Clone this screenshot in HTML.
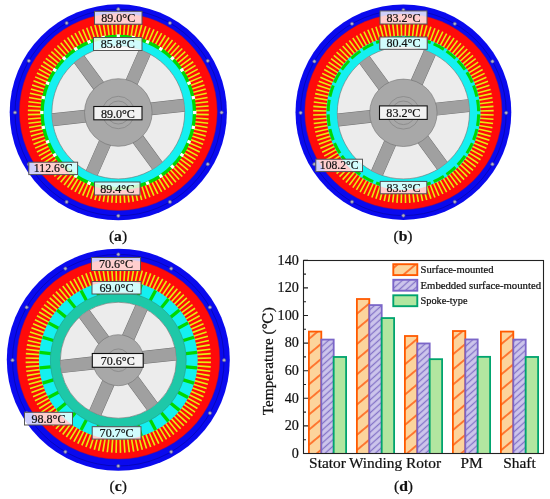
<!DOCTYPE html>
<html><head><meta charset="utf-8"><title>Temperature comparison</title>
<style>
html,body{margin:0;padding:0;background:#fff}
svg{display:block}
text{font-family:"Liberation Serif","DejaVu Serif",serif;fill:#111;stroke:#111;stroke-width:0.22px}
.lb{font-size:13px}
.cap{font-size:15.6px}
.ax{font-size:14.2px}
.xl{font-size:15.4px}
.lg{font-size:9.6px}
</style></head><body>
<svg width="550" height="499" viewBox="0 0 550 499">
<rect width="550" height="499" fill="#fff"/>
<g>
<ellipse cx="118.30" cy="112.35" rx="108.60" ry="108.00" fill="#0a0aee"/>
<ellipse cx="118.30" cy="112.50" rx="103.30" ry="103.30" fill="none" stroke="#0606b4" stroke-width="0.9"/>
<ellipse cx="118.30" cy="111.85" rx="98.90" ry="98.60" fill="#ff0a0a" stroke="#9a1040" stroke-width="0.5"/>
<path d="M120.45 22.03L120.14 35.22M124.76 22.23L123.81 35.40M129.04 22.64L127.48 35.75M133.31 23.25L131.12 36.27M137.54 24.07L134.73 36.97M141.72 25.08L138.31 37.83M145.86 26.30L141.84 38.87M149.93 27.71L145.31 40.07M153.93 29.31L148.73 41.44M157.84 31.10L152.08 42.97M161.67 33.07L155.35 44.66M165.40 35.22L158.53 46.49M169.03 37.55L161.63 48.48M172.53 40.05L164.62 50.62M175.92 42.71L167.52 52.89M179.18 45.53L170.30 55.30M182.29 48.51L172.96 57.84M185.27 51.62L175.50 60.50M188.09 54.88L177.91 63.28M190.75 58.27L180.18 66.18M193.25 61.77L182.32 69.17M195.58 65.40L184.31 72.27M197.73 69.13L186.14 75.45M199.70 72.96L187.83 78.72M201.49 76.87L189.36 82.07M203.09 80.87L190.73 85.49M204.50 84.94L191.93 88.96M205.72 89.08L192.97 92.49M206.73 93.26L193.83 96.07M207.55 97.49L194.53 99.68M208.16 101.76L195.05 103.32M208.57 106.04L195.40 106.99M208.77 110.35L195.58 110.66M208.77 114.65L195.58 114.34M208.57 118.96L195.40 118.01M208.16 123.24L195.05 121.68M207.55 127.51L194.53 125.32M206.73 131.74L193.83 128.93M205.72 135.92L192.97 132.51M204.50 140.06L191.93 136.04M203.09 144.13L190.73 139.51M201.49 148.13L189.36 142.93M199.70 152.04L187.83 146.28M197.73 155.87L186.14 149.55M195.58 159.60L184.31 152.73M193.25 163.23L182.32 155.83M190.75 166.73L180.18 158.82M188.09 170.12L177.91 161.72M185.27 173.38L175.50 164.50M182.29 176.49L172.96 167.16M179.18 179.47L170.30 169.70M175.92 182.29L167.52 172.11M172.53 184.95L164.62 174.38M169.03 187.45L161.63 176.52M165.40 189.78L158.53 178.51M161.67 191.93L155.35 180.34M157.84 193.90L152.08 182.03M153.93 195.69L148.73 183.56M149.93 197.29L145.31 184.93M145.86 198.70L141.84 186.13M141.72 199.92L138.31 187.17M137.54 200.93L134.73 188.03M133.31 201.75L131.12 188.73M129.04 202.36L127.48 189.25M124.76 202.77L123.81 189.60M120.45 202.97L120.14 189.78M116.15 202.97L116.46 189.78M111.84 202.77L112.79 189.60M107.56 202.36L109.12 189.25M103.29 201.75L105.48 188.73M99.06 200.93L101.87 188.03M94.88 199.92L98.29 187.17M90.74 198.70L94.76 186.13M86.67 197.29L91.29 184.93M82.67 195.69L87.87 183.56M78.76 193.90L84.52 182.03M74.93 191.93L81.25 180.34M71.20 189.78L78.07 178.51M67.57 187.45L74.97 176.52M64.07 184.95L71.98 174.38M60.68 182.29L69.08 172.11M57.42 179.47L66.30 169.70M54.31 176.49L63.64 167.16M51.33 173.38L61.10 164.50M48.51 170.12L58.69 161.72M45.85 166.73L56.42 158.82M43.35 163.23L54.28 155.83M41.02 159.60L52.29 152.73M38.87 155.87L50.46 149.55M36.90 152.04L48.77 146.28M35.11 148.13L47.24 142.93M33.51 144.13L45.87 139.51M32.10 140.06L44.67 136.04M30.88 135.92L43.63 132.51M29.87 131.74L42.77 128.93M29.05 127.51L42.07 125.32M28.44 123.24L41.55 121.68M28.03 118.96L41.20 118.01M27.83 114.65L41.02 114.34M27.83 110.35L41.02 110.66M28.03 106.04L41.20 106.99M28.44 101.76L41.55 103.32M29.05 97.49L42.07 99.68M29.87 93.26L42.77 96.07M30.88 89.08L43.63 92.49M32.10 84.94L44.67 88.96M33.51 80.87L45.87 85.49M35.11 76.87L47.24 82.07M36.90 72.96L48.77 78.72M38.87 69.13L50.46 75.45M41.02 65.40L52.29 72.27M43.35 61.77L54.28 69.17M45.85 58.27L56.42 66.18M48.51 54.88L58.69 63.28M51.33 51.62L61.10 60.50M54.31 48.51L63.64 57.84M57.42 45.53L66.30 55.30M60.68 42.71L69.08 52.89M64.07 40.05L71.98 50.62M67.57 37.55L74.97 48.48M71.20 35.22L78.07 46.49M74.93 33.07L81.25 44.66M78.76 31.10L84.52 42.97M82.67 29.31L87.87 41.44M86.67 27.71L91.29 40.07M90.74 26.30L94.76 38.87M94.88 25.08L98.29 37.83M99.06 24.07L101.87 36.97M103.29 23.25L105.48 36.27M107.56 22.64L109.12 35.75M111.84 22.23L112.79 35.40M116.15 22.03L116.46 35.22" stroke="#e6ea10" stroke-width="1.60" fill="none"/>
<circle cx="118.30" cy="9.20" r="1.60" fill="#b4b4c8" stroke="#5a5a96" stroke-width="0.7" />
<circle cx="169.95" cy="23.04" r="1.60" fill="#b4b4c8" stroke="#5a5a96" stroke-width="0.7" />
<circle cx="207.76" cy="60.85" r="1.60" fill="#b4b4c8" stroke="#5a5a96" stroke-width="0.7" />
<circle cx="221.60" cy="112.50" r="1.60" fill="#b4b4c8" stroke="#5a5a96" stroke-width="0.7" />
<circle cx="207.76" cy="164.15" r="1.60" fill="#b4b4c8" stroke="#5a5a96" stroke-width="0.7" />
<circle cx="169.95" cy="201.96" r="1.60" fill="#b4b4c8" stroke="#5a5a96" stroke-width="0.7" />
<circle cx="118.30" cy="215.80" r="1.60" fill="#b4b4c8" stroke="#5a5a96" stroke-width="0.7" />
<circle cx="66.65" cy="201.96" r="1.60" fill="#b4b4c8" stroke="#5a5a96" stroke-width="0.7" />
<circle cx="28.84" cy="164.15" r="1.60" fill="#b4b4c8" stroke="#5a5a96" stroke-width="0.7" />
<circle cx="15.00" cy="112.50" r="1.60" fill="#b4b4c8" stroke="#5a5a96" stroke-width="0.7" />
<circle cx="28.84" cy="60.85" r="1.60" fill="#b4b4c8" stroke="#5a5a96" stroke-width="0.7" />
<circle cx="66.65" cy="23.04" r="1.60" fill="#b4b4c8" stroke="#5a5a96" stroke-width="0.7" />
<circle cx="118.30" cy="112.50" r="77.80" fill="#00d800" />
<rect x="116.70" y="34.35" width="3.2" height="3.4" fill="#fff" transform="rotate(0.00 118.30 36.05)"/>
<rect x="131.61" y="35.82" width="3.2" height="3.4" fill="#fff" transform="rotate(11.25 133.21 37.52)"/>
<rect x="145.96" y="40.17" width="3.2" height="3.4" fill="#fff" transform="rotate(22.50 147.56 41.87)"/>
<rect x="159.17" y="47.23" width="3.2" height="3.4" fill="#fff" transform="rotate(33.75 160.77 48.93)"/>
<rect x="170.76" y="56.74" width="3.2" height="3.4" fill="#fff" transform="rotate(45.00 172.36 58.44)"/>
<rect x="180.27" y="68.33" width="3.2" height="3.4" fill="#fff" transform="rotate(56.25 181.87 70.03)"/>
<rect x="187.33" y="81.54" width="3.2" height="3.4" fill="#fff" transform="rotate(67.50 188.93 83.24)"/>
<rect x="191.68" y="95.89" width="3.2" height="3.4" fill="#fff" transform="rotate(78.75 193.28 97.59)"/>
<rect x="193.15" y="110.80" width="3.2" height="3.4" fill="#fff" transform="rotate(90.00 194.75 112.50)"/>
<rect x="191.68" y="125.71" width="3.2" height="3.4" fill="#fff" transform="rotate(101.25 193.28 127.41)"/>
<rect x="187.33" y="140.06" width="3.2" height="3.4" fill="#fff" transform="rotate(112.50 188.93 141.76)"/>
<rect x="180.27" y="153.27" width="3.2" height="3.4" fill="#fff" transform="rotate(123.75 181.87 154.97)"/>
<rect x="170.76" y="164.86" width="3.2" height="3.4" fill="#fff" transform="rotate(135.00 172.36 166.56)"/>
<rect x="159.17" y="174.37" width="3.2" height="3.4" fill="#fff" transform="rotate(146.25 160.77 176.07)"/>
<rect x="145.96" y="181.43" width="3.2" height="3.4" fill="#fff" transform="rotate(157.50 147.56 183.13)"/>
<rect x="131.61" y="185.78" width="3.2" height="3.4" fill="#fff" transform="rotate(168.75 133.21 187.48)"/>
<rect x="116.70" y="187.25" width="3.2" height="3.4" fill="#fff" transform="rotate(180.00 118.30 188.95)"/>
<rect x="101.79" y="185.78" width="3.2" height="3.4" fill="#fff" transform="rotate(191.25 103.39 187.48)"/>
<rect x="87.44" y="181.43" width="3.2" height="3.4" fill="#fff" transform="rotate(202.50 89.04 183.13)"/>
<rect x="74.23" y="174.37" width="3.2" height="3.4" fill="#fff" transform="rotate(213.75 75.83 176.07)"/>
<rect x="62.64" y="164.86" width="3.2" height="3.4" fill="#fff" transform="rotate(225.00 64.24 166.56)"/>
<rect x="53.13" y="153.27" width="3.2" height="3.4" fill="#fff" transform="rotate(236.25 54.73 154.97)"/>
<rect x="46.07" y="140.06" width="3.2" height="3.4" fill="#fff" transform="rotate(247.50 47.67 141.76)"/>
<rect x="41.72" y="125.71" width="3.2" height="3.4" fill="#fff" transform="rotate(258.75 43.32 127.41)"/>
<rect x="40.25" y="110.80" width="3.2" height="3.4" fill="#fff" transform="rotate(270.00 41.85 112.50)"/>
<rect x="41.72" y="95.89" width="3.2" height="3.4" fill="#fff" transform="rotate(281.25 43.32 97.59)"/>
<rect x="46.07" y="81.54" width="3.2" height="3.4" fill="#fff" transform="rotate(292.50 47.67 83.24)"/>
<rect x="53.13" y="68.33" width="3.2" height="3.4" fill="#fff" transform="rotate(303.75 54.73 70.03)"/>
<rect x="62.64" y="56.74" width="3.2" height="3.4" fill="#fff" transform="rotate(315.00 64.24 58.44)"/>
<rect x="74.23" y="47.23" width="3.2" height="3.4" fill="#fff" transform="rotate(326.25 75.83 48.93)"/>
<rect x="87.44" y="40.17" width="3.2" height="3.4" fill="#fff" transform="rotate(337.50 89.04 41.87)"/>
<rect x="101.79" y="35.82" width="3.2" height="3.4" fill="#fff" transform="rotate(348.75 103.39 37.52)"/>
<circle cx="118.30" cy="112.50" r="74.50" fill="#14f0f0" />
<circle cx="118.30" cy="112.50" r="66.40" fill="#ececec" stroke="#707070" stroke-width="0.6" />
<path d="M150.90 108.90L184.00 105.25M137.72 138.93L157.43 165.77M105.12 142.53L91.73 173.03M85.70 116.10L52.60 119.75M98.88 86.07L79.17 59.23M131.48 82.47L144.87 51.97" stroke="#707070" stroke-width="12.90" fill="none"/>
<path d="M150.90 108.90L184.00 105.25M137.72 138.93L157.43 165.77M105.12 142.53L91.73 173.03M85.70 116.10L52.60 119.75M98.88 86.07L79.17 59.23M131.48 82.47L144.87 51.97" stroke="#a0a0a0" stroke-width="12.00" fill="none"/>
<circle cx="118.30" cy="112.50" r="33.80" fill="#a8a8a8" stroke="#707070" stroke-width="0.6" />
<circle cx="118.30" cy="112.50" r="16.20" fill="none" stroke="#868686" stroke-width="0.8" />
<circle cx="118.30" cy="112.50" r="11.50" fill="none" stroke="#868686" stroke-width="0.8" />
</g>
<clipPath id="cl1"><rect x="94.5" y="11.3" width="47.50" height="12.90"/></clipPath>
<g clip-path="url(#cl1)">
<ellipse cx="118.30" cy="112.35" rx="108.60" ry="108.00" fill="#0a0aee"/>
<ellipse cx="118.30" cy="112.50" rx="103.30" ry="103.30" fill="none" stroke="#0606b4" stroke-width="0.9"/>
<ellipse cx="118.30" cy="111.85" rx="98.90" ry="98.60" fill="#ff0a0a" stroke="#9a1040" stroke-width="0.5"/>
<circle cx="118.30" cy="112.50" r="77.80" fill="#00d800" />
<circle cx="118.30" cy="112.50" r="74.50" fill="#14f0f0" />
<circle cx="118.30" cy="112.50" r="66.40" fill="#ececec" stroke="#707070" stroke-width="0.6" />
</g>
<rect x="94.5" y="11.3" width="47.50" height="12.90" fill="#fff" fill-opacity="0.8" stroke="#555" stroke-width="1"/>
<text x="118.25" y="21.90" text-anchor="middle" class="lb" textLength="34.0" lengthAdjust="spacingAndGlyphs">89.0°C</text>
<clipPath id="cl2"><rect x="93.5" y="37.5" width="48.50" height="13.00"/></clipPath>
<g clip-path="url(#cl2)">
<ellipse cx="118.30" cy="112.35" rx="108.60" ry="108.00" fill="#0a0aee"/>
<ellipse cx="118.30" cy="112.50" rx="103.30" ry="103.30" fill="none" stroke="#0606b4" stroke-width="0.9"/>
<ellipse cx="118.30" cy="111.85" rx="98.90" ry="98.60" fill="#ff0a0a" stroke="#9a1040" stroke-width="0.5"/>
<circle cx="118.30" cy="112.50" r="77.80" fill="#00d800" />
<circle cx="118.30" cy="112.50" r="74.50" fill="#14f0f0" />
<circle cx="118.30" cy="112.50" r="66.40" fill="#ececec" stroke="#707070" stroke-width="0.6" />
</g>
<rect x="93.5" y="37.5" width="48.50" height="13.00" fill="#fff" fill-opacity="0.8" stroke="#555" stroke-width="1"/>
<text x="117.75" y="48.20" text-anchor="middle" class="lb" textLength="34.0" lengthAdjust="spacingAndGlyphs">85.8°C</text>
<rect x="93.8" y="106.5" width="48.20" height="13.30" fill="#f2f2f2" stroke="#111" stroke-width="1.1"/>
<text x="117.90" y="117.50" text-anchor="middle" class="lb" textLength="34.0" lengthAdjust="spacingAndGlyphs">89.0°C</text>
<clipPath id="cl3"><rect x="28.8" y="162.2" width="48.80" height="12.40"/></clipPath>
<g clip-path="url(#cl3)">
<ellipse cx="118.30" cy="112.35" rx="108.60" ry="108.00" fill="#0a0aee"/>
<ellipse cx="118.30" cy="112.50" rx="103.30" ry="103.30" fill="none" stroke="#0606b4" stroke-width="0.9"/>
<ellipse cx="118.30" cy="111.85" rx="98.90" ry="98.60" fill="#ff0a0a" stroke="#9a1040" stroke-width="0.5"/>
<circle cx="118.30" cy="112.50" r="77.80" fill="#00d800" />
<circle cx="118.30" cy="112.50" r="74.50" fill="#14f0f0" />
<circle cx="118.30" cy="112.50" r="66.40" fill="#ececec" stroke="#707070" stroke-width="0.6" />
</g>
<rect x="28.8" y="162.2" width="48.80" height="12.40" fill="#fff" fill-opacity="0.8" stroke="#555" stroke-width="1"/>
<text x="53.20" y="172.30" text-anchor="middle" class="lb" textLength="38.7" lengthAdjust="spacingAndGlyphs">112.6°C</text>
<clipPath id="cl4"><rect x="94.5" y="182" width="45.50" height="13.00"/></clipPath>
<g clip-path="url(#cl4)">
<ellipse cx="118.30" cy="112.35" rx="108.60" ry="108.00" fill="#0a0aee"/>
<ellipse cx="118.30" cy="112.50" rx="103.30" ry="103.30" fill="none" stroke="#0606b4" stroke-width="0.9"/>
<ellipse cx="118.30" cy="111.85" rx="98.90" ry="98.60" fill="#ff0a0a" stroke="#9a1040" stroke-width="0.5"/>
<circle cx="118.30" cy="112.50" r="77.80" fill="#00d800" />
<circle cx="118.30" cy="112.50" r="74.50" fill="#14f0f0" />
<circle cx="118.30" cy="112.50" r="66.40" fill="#ececec" stroke="#707070" stroke-width="0.6" />
</g>
<rect x="94.5" y="182" width="45.50" height="13.00" fill="#fff" fill-opacity="0.8" stroke="#555" stroke-width="1"/>
<text x="117.25" y="192.70" text-anchor="middle" class="lb" textLength="34.0" lengthAdjust="spacingAndGlyphs">89.4°C</text>
<g>
<ellipse cx="403.40" cy="112.15" rx="107.90" ry="107.75" fill="#0a0aee"/>
<ellipse cx="403.40" cy="112.80" rx="102.80" ry="102.80" fill="none" stroke="#0606b4" stroke-width="0.9"/>
<ellipse cx="403.40" cy="111.70" rx="98.60" ry="97.80" fill="#ff0a0a" stroke="#9a1040" stroke-width="0.5"/>
<path d="M405.55 22.53L405.22 36.22M409.84 22.73L408.86 36.40M414.12 23.14L412.49 36.74M418.37 23.75L416.10 37.26M422.59 24.56L419.68 37.95M426.77 25.58L423.23 38.81M430.90 26.79L426.72 39.84M434.96 28.19L430.17 41.03M438.95 29.79L433.55 42.38M442.86 31.58L436.87 43.90M446.68 33.55L440.11 45.57M450.40 35.69L443.27 47.39M454.01 38.02L446.33 49.36M457.51 40.51L449.30 51.48M460.89 43.17L452.17 53.73M464.14 45.98L454.93 56.12M467.25 48.95L457.56 58.64M470.22 52.06L460.08 61.27M473.03 55.31L462.47 64.03M475.69 58.69L464.72 66.90M478.18 62.19L466.84 69.87M480.51 65.80L468.81 72.93M482.65 69.52L470.63 76.09M484.62 73.34L472.30 79.33M486.41 77.25L473.82 82.65M488.01 81.24L475.17 86.03M489.41 85.30L476.36 89.48M490.62 89.43L477.39 92.97M491.64 93.61L478.25 96.52M492.45 97.83L478.94 100.10M493.06 102.08L479.46 103.71M493.47 106.36L479.80 107.34M493.67 110.65L479.98 110.98M493.67 114.95L479.98 114.62M493.47 119.24L479.80 118.26M493.06 123.52L479.46 121.89M492.45 127.77L478.94 125.50M491.64 131.99L478.25 129.08M490.62 136.17L477.39 132.63M489.41 140.30L476.36 136.12M488.01 144.36L475.17 139.57M486.41 148.35L473.82 142.95M484.62 152.26L472.30 146.27M482.65 156.08L470.63 149.51M480.51 159.80L468.81 152.67M478.18 163.41L466.84 155.73M475.69 166.91L464.72 158.70M473.03 170.29L462.47 161.57M470.22 173.54L460.08 164.33M467.25 176.65L457.56 166.96M464.14 179.62L454.93 169.48M460.89 182.43L452.17 171.87M457.51 185.09L449.30 174.12M454.01 187.58L446.33 176.24M450.40 189.91L443.27 178.21M446.68 192.05L440.11 180.03M442.86 194.02L436.87 181.70M438.95 195.81L433.55 183.22M434.96 197.41L430.17 184.57M430.90 198.81L426.72 185.76M426.77 200.02L423.23 186.79M422.59 201.04L419.68 187.65M418.37 201.85L416.10 188.34M414.12 202.46L412.49 188.86M409.84 202.87L408.86 189.20M405.55 203.07L405.22 189.38M401.25 203.07L401.58 189.38M396.96 202.87L397.94 189.20M392.68 202.46L394.31 188.86M388.43 201.85L390.70 188.34M384.21 201.04L387.12 187.65M380.03 200.02L383.57 186.79M375.90 198.81L380.08 185.76M371.84 197.41L376.63 184.57M367.85 195.81L373.25 183.22M363.94 194.02L369.93 181.70M360.12 192.05L366.69 180.03M356.40 189.91L363.53 178.21M352.79 187.58L360.47 176.24M349.29 185.09L357.50 174.12M345.91 182.43L354.63 171.87M342.66 179.62L351.87 169.48M339.55 176.65L349.24 166.96M336.58 173.54L346.72 164.33M333.77 170.29L344.33 161.57M331.11 166.91L342.08 158.70M328.62 163.41L339.96 155.73M326.29 159.80L337.99 152.67M324.15 156.08L336.17 149.51M322.18 152.26L334.50 146.27M320.39 148.35L332.98 142.95M318.79 144.36L331.63 139.57M317.39 140.30L330.44 136.12M316.18 136.17L329.41 132.63M315.16 131.99L328.55 129.08M314.35 127.77L327.86 125.50M313.74 123.52L327.34 121.89M313.33 119.24L327.00 118.26M313.13 114.95L326.82 114.62M313.13 110.65L326.82 110.98M313.33 106.36L327.00 107.34M313.74 102.08L327.34 103.71M314.35 97.83L327.86 100.10M315.16 93.61L328.55 96.52M316.18 89.43L329.41 92.97M317.39 85.30L330.44 89.48M318.79 81.24L331.63 86.03M320.39 77.25L332.98 82.65M322.18 73.34L334.50 79.33M324.15 69.52L336.17 76.09M326.29 65.80L337.99 72.93M328.62 62.19L339.96 69.87M331.11 58.69L342.08 66.90M333.77 55.31L344.33 64.03M336.58 52.06L346.72 61.27M339.55 48.95L349.24 58.64M342.66 45.98L351.87 56.12M345.91 43.17L354.63 53.73M349.29 40.51L357.50 51.48M352.79 38.02L360.47 49.36M356.40 35.69L363.53 47.39M360.12 33.55L366.69 45.57M363.94 31.58L369.93 43.90M367.85 29.79L373.25 42.38M371.84 28.19L376.63 41.03M375.90 26.79L380.08 39.84M380.03 25.58L383.57 38.81M384.21 24.56L387.12 37.95M388.43 23.75L390.70 37.26M392.68 23.14L394.31 36.74M396.96 22.73L397.94 36.40M401.25 22.53L401.58 36.22" stroke="#e6ea10" stroke-width="1.59" fill="none"/>
<circle cx="403.40" cy="10.00" r="1.60" fill="#b4b4c8" stroke="#5a5a96" stroke-width="0.7" />
<circle cx="454.80" cy="23.77" r="1.60" fill="#b4b4c8" stroke="#5a5a96" stroke-width="0.7" />
<circle cx="492.43" cy="61.40" r="1.60" fill="#b4b4c8" stroke="#5a5a96" stroke-width="0.7" />
<circle cx="506.20" cy="112.80" r="1.60" fill="#b4b4c8" stroke="#5a5a96" stroke-width="0.7" />
<circle cx="492.43" cy="164.20" r="1.60" fill="#b4b4c8" stroke="#5a5a96" stroke-width="0.7" />
<circle cx="454.80" cy="201.83" r="1.60" fill="#b4b4c8" stroke="#5a5a96" stroke-width="0.7" />
<circle cx="403.40" cy="215.60" r="1.60" fill="#b4b4c8" stroke="#5a5a96" stroke-width="0.7" />
<circle cx="352.00" cy="201.83" r="1.60" fill="#b4b4c8" stroke="#5a5a96" stroke-width="0.7" />
<circle cx="314.37" cy="164.20" r="1.60" fill="#b4b4c8" stroke="#5a5a96" stroke-width="0.7" />
<circle cx="300.60" cy="112.80" r="1.60" fill="#b4b4c8" stroke="#5a5a96" stroke-width="0.7" />
<circle cx="314.37" cy="61.40" r="1.60" fill="#b4b4c8" stroke="#5a5a96" stroke-width="0.7" />
<circle cx="352.00" cy="23.77" r="1.60" fill="#b4b4c8" stroke="#5a5a96" stroke-width="0.7" />
<circle cx="403.40" cy="112.80" r="77.10" fill="#14f0f0" />
<path d="M404.98 37.57A75.25 75.25 0 0 1 416.53 38.70M419.62 39.32A75.25 75.25 0 0 1 430.73 42.69M433.65 43.90A75.25 75.25 0 0 1 443.89 49.37M446.51 51.12A75.25 75.25 0 0 1 455.48 58.49M457.71 60.72A75.25 75.25 0 0 1 465.08 69.69M466.83 72.31A75.25 75.25 0 0 1 472.30 82.55M473.51 85.47A75.25 75.25 0 0 1 476.88 96.58M477.50 99.67A75.25 75.25 0 0 1 478.63 111.22M478.63 114.38A75.25 75.25 0 0 1 477.50 125.93M476.88 129.02A75.25 75.25 0 0 1 473.51 140.13M472.30 143.05A75.25 75.25 0 0 1 466.83 153.29M465.08 155.91A75.25 75.25 0 0 1 457.71 164.88M455.48 167.11A75.25 75.25 0 0 1 446.51 174.48M443.89 176.23A75.25 75.25 0 0 1 433.65 181.70M430.73 182.91A75.25 75.25 0 0 1 419.62 186.28M416.53 186.90A75.25 75.25 0 0 1 404.98 188.03M401.82 188.03A75.25 75.25 0 0 1 390.27 186.90M387.18 186.28A75.25 75.25 0 0 1 376.07 182.91M373.15 181.70A75.25 75.25 0 0 1 362.91 176.23M360.29 174.48A75.25 75.25 0 0 1 351.32 167.11M349.09 164.88A75.25 75.25 0 0 1 341.72 155.91M339.97 153.29A75.25 75.25 0 0 1 334.50 143.05M333.29 140.13A75.25 75.25 0 0 1 329.92 129.02M329.30 125.93A75.25 75.25 0 0 1 328.17 114.38M328.17 111.22A75.25 75.25 0 0 1 329.30 99.67M329.92 96.58A75.25 75.25 0 0 1 333.29 85.47M334.50 82.55A75.25 75.25 0 0 1 339.97 72.31M341.72 69.69A75.25 75.25 0 0 1 349.09 60.72M351.32 58.49A75.25 75.25 0 0 1 360.29 51.12M362.91 49.37A75.25 75.25 0 0 1 373.15 43.90M376.07 42.69A75.25 75.25 0 0 1 387.18 39.32M390.27 38.70A75.25 75.25 0 0 1 401.82 37.57" stroke="#00d800" stroke-width="3.00" fill="none"/>
<circle cx="403.40" cy="112.80" r="66.10" fill="#ececec" stroke="#707070" stroke-width="0.6" />
<path d="M435.90 109.21L468.80 105.58M422.76 139.15L442.35 165.83M390.26 142.74L376.95 173.05M370.90 116.39L338.00 120.02M384.04 86.45L364.45 59.77M416.54 82.86L429.85 52.55" stroke="#707070" stroke-width="12.90" fill="none"/>
<path d="M435.90 109.21L468.80 105.58M422.76 139.15L442.35 165.83M390.26 142.74L376.95 173.05M370.90 116.39L338.00 120.02M384.04 86.45L364.45 59.77M416.54 82.86L429.85 52.55" stroke="#a0a0a0" stroke-width="12.00" fill="none"/>
<circle cx="403.40" cy="112.80" r="33.70" fill="#a8a8a8" stroke="#707070" stroke-width="0.6" />
<circle cx="403.40" cy="112.80" r="16.30" fill="none" stroke="#868686" stroke-width="0.8" />
<circle cx="403.40" cy="112.80" r="11.80" fill="none" stroke="#868686" stroke-width="0.8" />
</g>
<clipPath id="cl5"><rect x="380" y="10.9" width="47.00" height="13.10"/></clipPath>
<g clip-path="url(#cl5)">
<ellipse cx="403.40" cy="112.15" rx="107.90" ry="107.75" fill="#0a0aee"/>
<ellipse cx="403.40" cy="112.80" rx="102.80" ry="102.80" fill="none" stroke="#0606b4" stroke-width="0.9"/>
<ellipse cx="403.40" cy="111.70" rx="98.60" ry="97.80" fill="#ff0a0a" stroke="#9a1040" stroke-width="0.5"/>
<circle cx="403.40" cy="112.80" r="77.10" fill="#14f0f0" />
<circle cx="403.40" cy="112.80" r="66.10" fill="#ececec" stroke="#707070" stroke-width="0.6" />
</g>
<rect x="380" y="10.9" width="47.00" height="13.10" fill="#fff" fill-opacity="0.8" stroke="#555" stroke-width="1"/>
<text x="403.50" y="21.70" text-anchor="middle" class="lb" textLength="34.0" lengthAdjust="spacingAndGlyphs">83.2°C</text>
<clipPath id="cl6"><rect x="379.8" y="37.0" width="47.40" height="12.30"/></clipPath>
<g clip-path="url(#cl6)">
<ellipse cx="403.40" cy="112.15" rx="107.90" ry="107.75" fill="#0a0aee"/>
<ellipse cx="403.40" cy="112.80" rx="102.80" ry="102.80" fill="none" stroke="#0606b4" stroke-width="0.9"/>
<ellipse cx="403.40" cy="111.70" rx="98.60" ry="97.80" fill="#ff0a0a" stroke="#9a1040" stroke-width="0.5"/>
<circle cx="403.40" cy="112.80" r="77.10" fill="#14f0f0" />
<circle cx="403.40" cy="112.80" r="66.10" fill="#ececec" stroke="#707070" stroke-width="0.6" />
</g>
<rect x="379.8" y="37.0" width="47.40" height="12.30" fill="#fff" fill-opacity="0.8" stroke="#555" stroke-width="1"/>
<text x="403.50" y="47.00" text-anchor="middle" class="lb" textLength="34.0" lengthAdjust="spacingAndGlyphs">80.4°C</text>
<rect x="379.5" y="105.9" width="47.70" height="13.50" fill="#f2f2f2" stroke="#111" stroke-width="1.1"/>
<text x="403.35" y="117.10" text-anchor="middle" class="lb" textLength="34.0" lengthAdjust="spacingAndGlyphs">83.2°C</text>
<clipPath id="cl7"><rect x="315.8" y="159.2" width="46.70" height="12.40"/></clipPath>
<g clip-path="url(#cl7)">
<ellipse cx="403.40" cy="112.15" rx="107.90" ry="107.75" fill="#0a0aee"/>
<ellipse cx="403.40" cy="112.80" rx="102.80" ry="102.80" fill="none" stroke="#0606b4" stroke-width="0.9"/>
<ellipse cx="403.40" cy="111.70" rx="98.60" ry="97.80" fill="#ff0a0a" stroke="#9a1040" stroke-width="0.5"/>
<circle cx="403.40" cy="112.80" r="77.10" fill="#14f0f0" />
<circle cx="403.40" cy="112.80" r="66.10" fill="#ececec" stroke="#707070" stroke-width="0.6" />
</g>
<rect x="315.8" y="159.2" width="46.70" height="12.40" fill="#fff" fill-opacity="0.8" stroke="#555" stroke-width="1"/>
<text x="339.15" y="169.30" text-anchor="middle" class="lb" textLength="38.7" lengthAdjust="spacingAndGlyphs">108.2°C</text>
<clipPath id="cl8"><rect x="380.2" y="181.4" width="46.60" height="12.40"/></clipPath>
<g clip-path="url(#cl8)">
<ellipse cx="403.40" cy="112.15" rx="107.90" ry="107.75" fill="#0a0aee"/>
<ellipse cx="403.40" cy="112.80" rx="102.80" ry="102.80" fill="none" stroke="#0606b4" stroke-width="0.9"/>
<ellipse cx="403.40" cy="111.70" rx="98.60" ry="97.80" fill="#ff0a0a" stroke="#9a1040" stroke-width="0.5"/>
<circle cx="403.40" cy="112.80" r="77.10" fill="#14f0f0" />
<circle cx="403.40" cy="112.80" r="66.10" fill="#ececec" stroke="#707070" stroke-width="0.6" />
</g>
<rect x="380.2" y="181.4" width="46.60" height="12.40" fill="#fff" fill-opacity="0.8" stroke="#555" stroke-width="1"/>
<text x="403.50" y="191.50" text-anchor="middle" class="lb" textLength="34.0" lengthAdjust="spacingAndGlyphs">83.3°C</text>
<g>
<ellipse cx="118.30" cy="359.75" rx="111.50" ry="111.05" fill="#0a0aee"/>
<ellipse cx="118.30" cy="360.20" rx="105.80" ry="105.80" fill="none" stroke="#0606b4" stroke-width="0.9"/>
<ellipse cx="118.30" cy="359.15" rx="101.50" ry="99.95" fill="#ff0a0a" stroke="#9a1040" stroke-width="0.5"/>
<path d="M120.51 267.53L120.18 281.32M124.91 267.74L123.93 281.50M129.31 268.16L127.67 281.86M133.67 268.78L131.38 282.39M138.00 269.62L135.07 283.10M142.29 270.66L138.72 283.99M146.53 271.90L142.32 285.05M150.70 273.34L145.87 286.27M154.79 274.98L149.36 287.67M158.80 276.82L152.77 289.23M162.73 278.84L156.11 290.95M166.55 281.05L159.36 292.83M170.26 283.43L162.52 294.86M173.85 285.99L165.58 297.04M177.32 288.72L168.53 299.36M180.66 291.61L171.37 301.82M183.85 294.65L174.09 304.41M186.89 297.84L176.68 307.13M189.78 301.18L179.14 309.97M192.51 304.65L181.46 312.92M195.07 308.24L183.64 315.98M197.45 311.95L185.67 319.14M199.66 315.77L187.55 322.39M201.68 319.70L189.27 325.73M203.52 323.71L190.83 329.14M205.16 327.80L192.23 332.63M206.60 331.97L193.45 336.18M207.84 336.21L194.51 339.78M208.88 340.50L195.40 343.43M209.72 344.83L196.11 347.12M210.34 349.19L196.64 350.83M210.76 353.59L197.00 354.57M210.97 357.99L197.18 358.32M210.97 362.41L197.18 362.08M210.76 366.81L197.00 365.83M210.34 371.21L196.64 369.57M209.72 375.57L196.11 373.28M208.88 379.90L195.40 376.97M207.84 384.19L194.51 380.62M206.60 388.43L193.45 384.22M205.16 392.60L192.23 387.77M203.52 396.69L190.83 391.26M201.68 400.70L189.27 394.67M199.66 404.63L187.55 398.01M197.45 408.45L185.67 401.26M195.07 412.16L183.64 404.42M192.51 415.75L181.46 407.48M189.78 419.22L179.14 410.43M186.89 422.56L176.68 413.27M183.85 425.75L174.09 415.99M180.66 428.79L171.37 418.58M177.32 431.68L168.53 421.04M173.85 434.41L165.58 423.36M170.26 436.97L162.52 425.54M166.55 439.35L159.36 427.57M162.73 441.56L156.11 429.45M158.80 443.58L152.77 431.17M154.79 445.42L149.36 432.73M150.70 447.06L145.87 434.13M146.53 448.50L142.32 435.35M142.29 449.74L138.72 436.41M138.00 450.78L135.07 437.30M133.67 451.62L131.38 438.01M129.31 452.24L127.67 438.54M124.91 452.66L123.93 438.90M120.51 452.87L120.18 439.08M116.09 452.87L116.42 439.08M111.69 452.66L112.67 438.90M107.29 452.24L108.93 438.54M102.93 451.62L105.22 438.01M98.60 450.78L101.53 437.30M94.31 449.74L97.88 436.41M90.07 448.50L94.28 435.35M85.90 447.06L90.73 434.13M81.81 445.42L87.24 432.73M77.80 443.58L83.83 431.17M73.87 441.56L80.49 429.45M70.05 439.35L77.24 427.57M66.34 436.97L74.08 425.54M62.75 434.41L71.02 423.36M59.28 431.68L68.07 421.04M55.94 428.79L65.23 418.58M52.75 425.75L62.51 415.99M49.71 422.56L59.92 413.27M46.82 419.22L57.46 410.43M44.09 415.75L55.14 407.48M41.53 412.16L52.96 404.42M39.15 408.45L50.93 401.26M36.94 404.63L49.05 398.01M34.92 400.70L47.33 394.67M33.08 396.69L45.77 391.26M31.44 392.60L44.37 387.77M30.00 388.43L43.15 384.22M28.76 384.19L42.09 380.62M27.72 379.90L41.20 376.97M26.88 375.57L40.49 373.28M26.26 371.21L39.96 369.57M25.84 366.81L39.60 365.83M25.63 362.41L39.42 362.08M25.63 357.99L39.42 358.32M25.84 353.59L39.60 354.57M26.26 349.19L39.96 350.83M26.88 344.83L40.49 347.12M27.72 340.50L41.20 343.43M28.76 336.21L42.09 339.78M30.00 331.97L43.15 336.18M31.44 327.80L44.37 332.63M33.08 323.71L45.77 329.14M34.92 319.70L47.33 325.73M36.94 315.77L49.05 322.39M39.15 311.95L50.93 319.14M41.53 308.24L52.96 315.98M44.09 304.65L55.14 312.92M46.82 301.18L57.46 309.97M49.71 297.84L59.92 307.13M52.75 294.65L62.51 304.41M55.94 291.61L65.23 301.82M59.28 288.72L68.07 299.36M62.75 285.99L71.02 297.04M66.34 283.43L74.08 294.86M70.05 281.05L77.24 292.83M73.87 278.84L80.49 290.95M77.80 276.82L83.83 289.23M81.81 274.98L87.24 287.67M85.90 273.34L90.73 286.27M90.07 271.90L94.28 285.05M94.31 270.66L97.88 283.99M98.60 269.62L101.53 283.10M102.93 268.78L105.22 282.39M107.29 268.16L108.93 281.86M111.69 267.74L112.67 281.50M116.09 267.53L116.42 281.32" stroke="#e6ea10" stroke-width="1.64" fill="none"/>
<circle cx="118.30" cy="254.40" r="1.60" fill="#b4b4c8" stroke="#5a5a96" stroke-width="0.7" />
<circle cx="171.20" cy="268.57" r="1.60" fill="#b4b4c8" stroke="#5a5a96" stroke-width="0.7" />
<circle cx="209.93" cy="307.30" r="1.60" fill="#b4b4c8" stroke="#5a5a96" stroke-width="0.7" />
<circle cx="224.10" cy="360.20" r="1.60" fill="#b4b4c8" stroke="#5a5a96" stroke-width="0.7" />
<circle cx="209.93" cy="413.10" r="1.60" fill="#b4b4c8" stroke="#5a5a96" stroke-width="0.7" />
<circle cx="171.20" cy="451.83" r="1.60" fill="#b4b4c8" stroke="#5a5a96" stroke-width="0.7" />
<circle cx="118.30" cy="466.00" r="1.60" fill="#b4b4c8" stroke="#5a5a96" stroke-width="0.7" />
<circle cx="65.40" cy="451.83" r="1.60" fill="#b4b4c8" stroke="#5a5a96" stroke-width="0.7" />
<circle cx="26.67" cy="413.10" r="1.60" fill="#b4b4c8" stroke="#5a5a96" stroke-width="0.7" />
<circle cx="12.50" cy="360.20" r="1.60" fill="#b4b4c8" stroke="#5a5a96" stroke-width="0.7" />
<circle cx="26.67" cy="307.30" r="1.60" fill="#b4b4c8" stroke="#5a5a96" stroke-width="0.7" />
<circle cx="65.40" cy="268.57" r="1.60" fill="#b4b4c8" stroke="#5a5a96" stroke-width="0.7" />
<circle cx="118.30" cy="360.20" r="79.40" fill="#14f0f0" />
<path d="M126.05 281.48L124.96 292.63M141.26 284.51L138.01 295.22M155.59 290.44L150.31 300.32M168.48 299.05L161.38 307.71M179.45 310.02L170.79 317.12M188.06 322.91L178.18 328.19M193.99 337.24L183.28 340.49M197.02 352.45L185.87 353.54M197.02 367.95L185.87 366.86M193.99 383.16L183.28 379.91M188.06 397.49L178.18 392.21M179.45 410.38L170.79 403.28M168.48 421.35L161.38 412.69M155.59 429.96L150.31 420.08M141.26 435.89L138.01 425.18M126.05 438.92L124.96 427.77M110.55 438.92L111.64 427.77M95.34 435.89L98.59 425.18M81.01 429.96L86.29 420.08M68.12 421.35L75.22 412.69M57.15 410.38L65.81 403.28M48.54 397.49L58.42 392.21M42.61 383.16L53.32 379.91M39.58 367.95L50.73 366.86M39.58 352.45L50.73 353.54M42.61 337.24L53.32 340.49M48.54 322.91L58.42 328.19M57.15 310.02L65.81 317.12M68.12 299.05L75.22 307.71M81.01 290.44L86.29 300.32M95.34 284.51L98.59 295.22M110.55 281.48L111.64 292.63" stroke="#00d800" stroke-width="3.3" fill="none"/>
<circle cx="118.30" cy="360.20" r="67.90" fill="#1ec8a8" stroke="#2a8a78" stroke-width="0.5" />
<circle cx="118.30" cy="360.20" r="58.00" fill="#ececec" stroke="#707070" stroke-width="0.6" />
<path d="M142.65 357.51L175.65 353.87M132.80 379.95L152.46 406.70M108.45 382.63L95.11 413.03M93.95 362.89L60.95 366.53M103.80 340.45L84.14 313.70M128.15 337.77L141.49 307.37" stroke="#707070" stroke-width="13.20" fill="none"/>
<path d="M142.65 357.51L175.65 353.87M132.80 379.95L152.46 406.70M108.45 382.63L95.11 413.03M93.95 362.89L60.95 366.53M103.80 340.45L84.14 313.70M128.15 337.77L141.49 307.37" stroke="#a0a0a0" stroke-width="12.30" fill="none"/>
<circle cx="118.30" cy="360.20" r="25.50" fill="#a8a8a8" stroke="#707070" stroke-width="0.6" />
<circle cx="118.30" cy="360.20" r="11.30" fill="none" stroke="#868686" stroke-width="0.8" />
<circle cx="118.30" cy="360.20" r="6.60" fill="none" stroke="#868686" stroke-width="0.8" />
</g>
<clipPath id="cl9"><rect x="91.5" y="257.5" width="49.00" height="13.00"/></clipPath>
<g clip-path="url(#cl9)">
<ellipse cx="118.30" cy="359.75" rx="111.50" ry="111.05" fill="#0a0aee"/>
<ellipse cx="118.30" cy="360.20" rx="105.80" ry="105.80" fill="none" stroke="#0606b4" stroke-width="0.9"/>
<ellipse cx="118.30" cy="359.15" rx="101.50" ry="99.95" fill="#ff0a0a" stroke="#9a1040" stroke-width="0.5"/>
<circle cx="118.30" cy="360.20" r="79.40" fill="#14f0f0" />
<circle cx="118.30" cy="360.20" r="67.90" fill="#1ec8a8" stroke="#2a8a78" stroke-width="0.5" />
<circle cx="118.30" cy="360.20" r="58.00" fill="#ececec" stroke="#707070" stroke-width="0.6" />
</g>
<rect x="91.5" y="257.5" width="49.00" height="13.00" fill="#fff" fill-opacity="0.8" stroke="#555" stroke-width="1"/>
<text x="116.00" y="268.20" text-anchor="middle" class="lb" textLength="34.0" lengthAdjust="spacingAndGlyphs">70.6°C</text>
<clipPath id="cl10"><rect x="92" y="281.5" width="49.00" height="12.50"/></clipPath>
<g clip-path="url(#cl10)">
<ellipse cx="118.30" cy="359.75" rx="111.50" ry="111.05" fill="#0a0aee"/>
<ellipse cx="118.30" cy="360.20" rx="105.80" ry="105.80" fill="none" stroke="#0606b4" stroke-width="0.9"/>
<ellipse cx="118.30" cy="359.15" rx="101.50" ry="99.95" fill="#ff0a0a" stroke="#9a1040" stroke-width="0.5"/>
<circle cx="118.30" cy="360.20" r="79.40" fill="#14f0f0" />
<circle cx="118.30" cy="360.20" r="67.90" fill="#1ec8a8" stroke="#2a8a78" stroke-width="0.5" />
<circle cx="118.30" cy="360.20" r="58.00" fill="#ececec" stroke="#707070" stroke-width="0.6" />
</g>
<rect x="92" y="281.5" width="49.00" height="12.50" fill="#fff" fill-opacity="0.8" stroke="#555" stroke-width="1"/>
<text x="116.50" y="291.70" text-anchor="middle" class="lb" textLength="34.0" lengthAdjust="spacingAndGlyphs">69.0°C</text>
<rect x="92.3" y="353.5" width="50.90" height="13.80" fill="#f2f2f2" stroke="#111" stroke-width="1.1"/>
<text x="117.75" y="365.00" text-anchor="middle" class="lb" textLength="34.0" lengthAdjust="spacingAndGlyphs">70.6°C</text>
<clipPath id="cl11"><rect x="24.5" y="412.3" width="48.00" height="12.70"/></clipPath>
<g clip-path="url(#cl11)">
<ellipse cx="118.30" cy="359.75" rx="111.50" ry="111.05" fill="#0a0aee"/>
<ellipse cx="118.30" cy="360.20" rx="105.80" ry="105.80" fill="none" stroke="#0606b4" stroke-width="0.9"/>
<ellipse cx="118.30" cy="359.15" rx="101.50" ry="99.95" fill="#ff0a0a" stroke="#9a1040" stroke-width="0.5"/>
<circle cx="118.30" cy="360.20" r="79.40" fill="#14f0f0" />
<circle cx="118.30" cy="360.20" r="67.90" fill="#1ec8a8" stroke="#2a8a78" stroke-width="0.5" />
<circle cx="118.30" cy="360.20" r="58.00" fill="#ececec" stroke="#707070" stroke-width="0.6" />
</g>
<rect x="24.5" y="412.3" width="48.00" height="12.70" fill="#fff" fill-opacity="0.8" stroke="#555" stroke-width="1"/>
<text x="48.50" y="422.70" text-anchor="middle" class="lb" textLength="34.0" lengthAdjust="spacingAndGlyphs">98.8°C</text>
<clipPath id="cl12"><rect x="92.2" y="426.7" width="48.80" height="12.40"/></clipPath>
<g clip-path="url(#cl12)">
<ellipse cx="118.30" cy="359.75" rx="111.50" ry="111.05" fill="#0a0aee"/>
<ellipse cx="118.30" cy="360.20" rx="105.80" ry="105.80" fill="none" stroke="#0606b4" stroke-width="0.9"/>
<ellipse cx="118.30" cy="359.15" rx="101.50" ry="99.95" fill="#ff0a0a" stroke="#9a1040" stroke-width="0.5"/>
<circle cx="118.30" cy="360.20" r="79.40" fill="#14f0f0" />
<circle cx="118.30" cy="360.20" r="67.90" fill="#1ec8a8" stroke="#2a8a78" stroke-width="0.5" />
<circle cx="118.30" cy="360.20" r="58.00" fill="#ececec" stroke="#707070" stroke-width="0.6" />
</g>
<rect x="92.2" y="426.7" width="48.80" height="12.40" fill="#fff" fill-opacity="0.8" stroke="#555" stroke-width="1"/>
<text x="116.60" y="436.80" text-anchor="middle" class="lb" textLength="34.0" lengthAdjust="spacingAndGlyphs">70.7°C</text>
<text x="118" y="240.8" text-anchor="middle" class="cap">(<tspan font-weight="bold">a</tspan>)</text>
<text x="403" y="241.1" text-anchor="middle" class="cap">(<tspan font-weight="bold">b</tspan>)</text>
<text x="118.2" y="490.5" text-anchor="middle" class="cap">(<tspan font-weight="bold">c</tspan>)</text>
<text x="403.5" y="490.6" text-anchor="middle" class="cap">(<tspan font-weight="bold">d</tspan>)</text>
<g>
<defs>
<pattern id="h1" width="11.6" height="11.6" patternUnits="userSpaceOnUse" patternTransform="rotate(-40)"><rect width="11.6" height="11.6" fill="#fcd49c"/><line x1="0" y1="5.8" x2="11.6" y2="5.8" stroke="#ff5a10" stroke-width="1.5"/></pattern>
<pattern id="h2" width="4.8" height="4.8" patternUnits="userSpaceOnUse" patternTransform="rotate(-42)"><rect width="4.8" height="4.8" fill="#cdc6ec"/><line x1="0" y1="2.4" x2="4.8" y2="2.4" stroke="#8474c8" stroke-width="1.3"/></pattern>
</defs>
<rect x="308.90" y="331.58" width="12.40" height="122.82" fill="url(#h1)" stroke="#ff5a00" stroke-width="1.8"/>
<rect x="321.30" y="339.58" width="12.40" height="114.82" fill="url(#h2)" stroke="#7b66c8" stroke-width="1.8"/>
<rect x="333.70" y="356.97" width="12.40" height="97.43" fill="#b2e6a0" stroke="#00a46e" stroke-width="1.8"/>
<text x="327.50" y="468" text-anchor="middle" class="xl">Stator</text>
<rect x="356.90" y="299.01" width="12.40" height="155.39" fill="url(#h1)" stroke="#ff5a00" stroke-width="1.8"/>
<rect x="369.30" y="305.08" width="12.40" height="149.32" fill="url(#h2)" stroke="#7b66c8" stroke-width="1.8"/>
<rect x="381.70" y="318.06" width="12.40" height="136.34" fill="#b2e6a0" stroke="#00a46e" stroke-width="1.8"/>
<text x="375.50" y="468" text-anchor="middle" class="xl">Winding</text>
<rect x="404.90" y="336.00" width="12.40" height="118.40" fill="url(#h1)" stroke="#ff5a00" stroke-width="1.8"/>
<rect x="417.30" y="343.45" width="12.40" height="110.95" fill="url(#h2)" stroke="#7b66c8" stroke-width="1.8"/>
<rect x="429.70" y="359.18" width="12.40" height="95.22" fill="#b2e6a0" stroke="#00a46e" stroke-width="1.8"/>
<text x="423.50" y="468" text-anchor="middle" class="xl">Rotor</text>
<rect x="452.90" y="331.03" width="12.40" height="123.37" fill="url(#h1)" stroke="#ff5a00" stroke-width="1.8"/>
<rect x="465.30" y="339.45" width="12.40" height="114.95" fill="url(#h2)" stroke="#7b66c8" stroke-width="1.8"/>
<rect x="477.70" y="356.83" width="12.40" height="97.57" fill="#b2e6a0" stroke="#00a46e" stroke-width="1.8"/>
<text x="471.50" y="468" text-anchor="middle" class="xl">PM</text>
<rect x="500.90" y="331.58" width="12.40" height="122.82" fill="url(#h1)" stroke="#ff5a00" stroke-width="1.8"/>
<rect x="513.30" y="339.58" width="12.40" height="114.82" fill="url(#h2)" stroke="#7b66c8" stroke-width="1.8"/>
<rect x="525.70" y="356.97" width="12.40" height="97.43" fill="#b2e6a0" stroke="#00a46e" stroke-width="1.8"/>
<text x="519.50" y="468" text-anchor="middle" class="xl">Shaft</text>
<rect x="301.5" y="453.5" width="244.0" height="3" fill="#fff"/>
<rect x="303.5" y="260.5" width="240.0" height="193.0" fill="none" stroke="#222" stroke-width="1.1"/>
<path d="M303.5 453.50h4.5M303.5 439.70h2.5M303.5 425.90h4.5M303.5 412.10h2.5M303.5 398.30h4.5M303.5 384.50h2.5M303.5 370.70h4.5M303.5 356.90h2.5M303.5 343.10h4.5M303.5 329.30h2.5M303.5 315.50h4.5M303.5 301.70h2.5M303.5 287.90h4.5M303.5 274.10h2.5M303.5 260.30h4.5" stroke="#222" stroke-width="1.1" fill="none"/>
<text x="298.90" y="457.70" text-anchor="end" class="ax">0</text>
<text x="298.90" y="430.10" text-anchor="end" class="ax">20</text>
<text x="298.90" y="402.50" text-anchor="end" class="ax">40</text>
<text x="298.90" y="374.90" text-anchor="end" class="ax">60</text>
<text x="298.90" y="347.30" text-anchor="end" class="ax">80</text>
<text x="298.90" y="319.70" text-anchor="end" class="ax">100</text>
<text x="298.90" y="292.10" text-anchor="end" class="ax">120</text>
<text x="298.90" y="264.50" text-anchor="end" class="ax">140</text>
<text transform="translate(272.8 361.2) rotate(-90)" text-anchor="middle" class="ax" textLength="108" lengthAdjust="spacingAndGlyphs">Temperature (℃)</text>
<rect x="393.3" y="264.20" width="24.0" height="10.9" fill="url(#h1)" stroke="#ff5a00" stroke-width="1.9"/>
<text x="420.5" y="273.20" class="lg" textLength="73" lengthAdjust="spacingAndGlyphs">Surface-mounted</text>
<rect x="393.3" y="279.80" width="24.0" height="10.9" fill="url(#h2)" stroke="#7b66c8" stroke-width="1.9"/>
<text x="420.5" y="288.80" class="lg" textLength="120.5" lengthAdjust="spacingAndGlyphs">Embedded surface-mounted</text>
<rect x="393.3" y="295.30" width="24.0" height="10.9" fill="#b2e6a0" stroke="#00a46e" stroke-width="1.9"/>
<text x="420.5" y="304.30" class="lg" textLength="47" lengthAdjust="spacingAndGlyphs">Spoke-type</text>
</g>
</svg></body></html>
